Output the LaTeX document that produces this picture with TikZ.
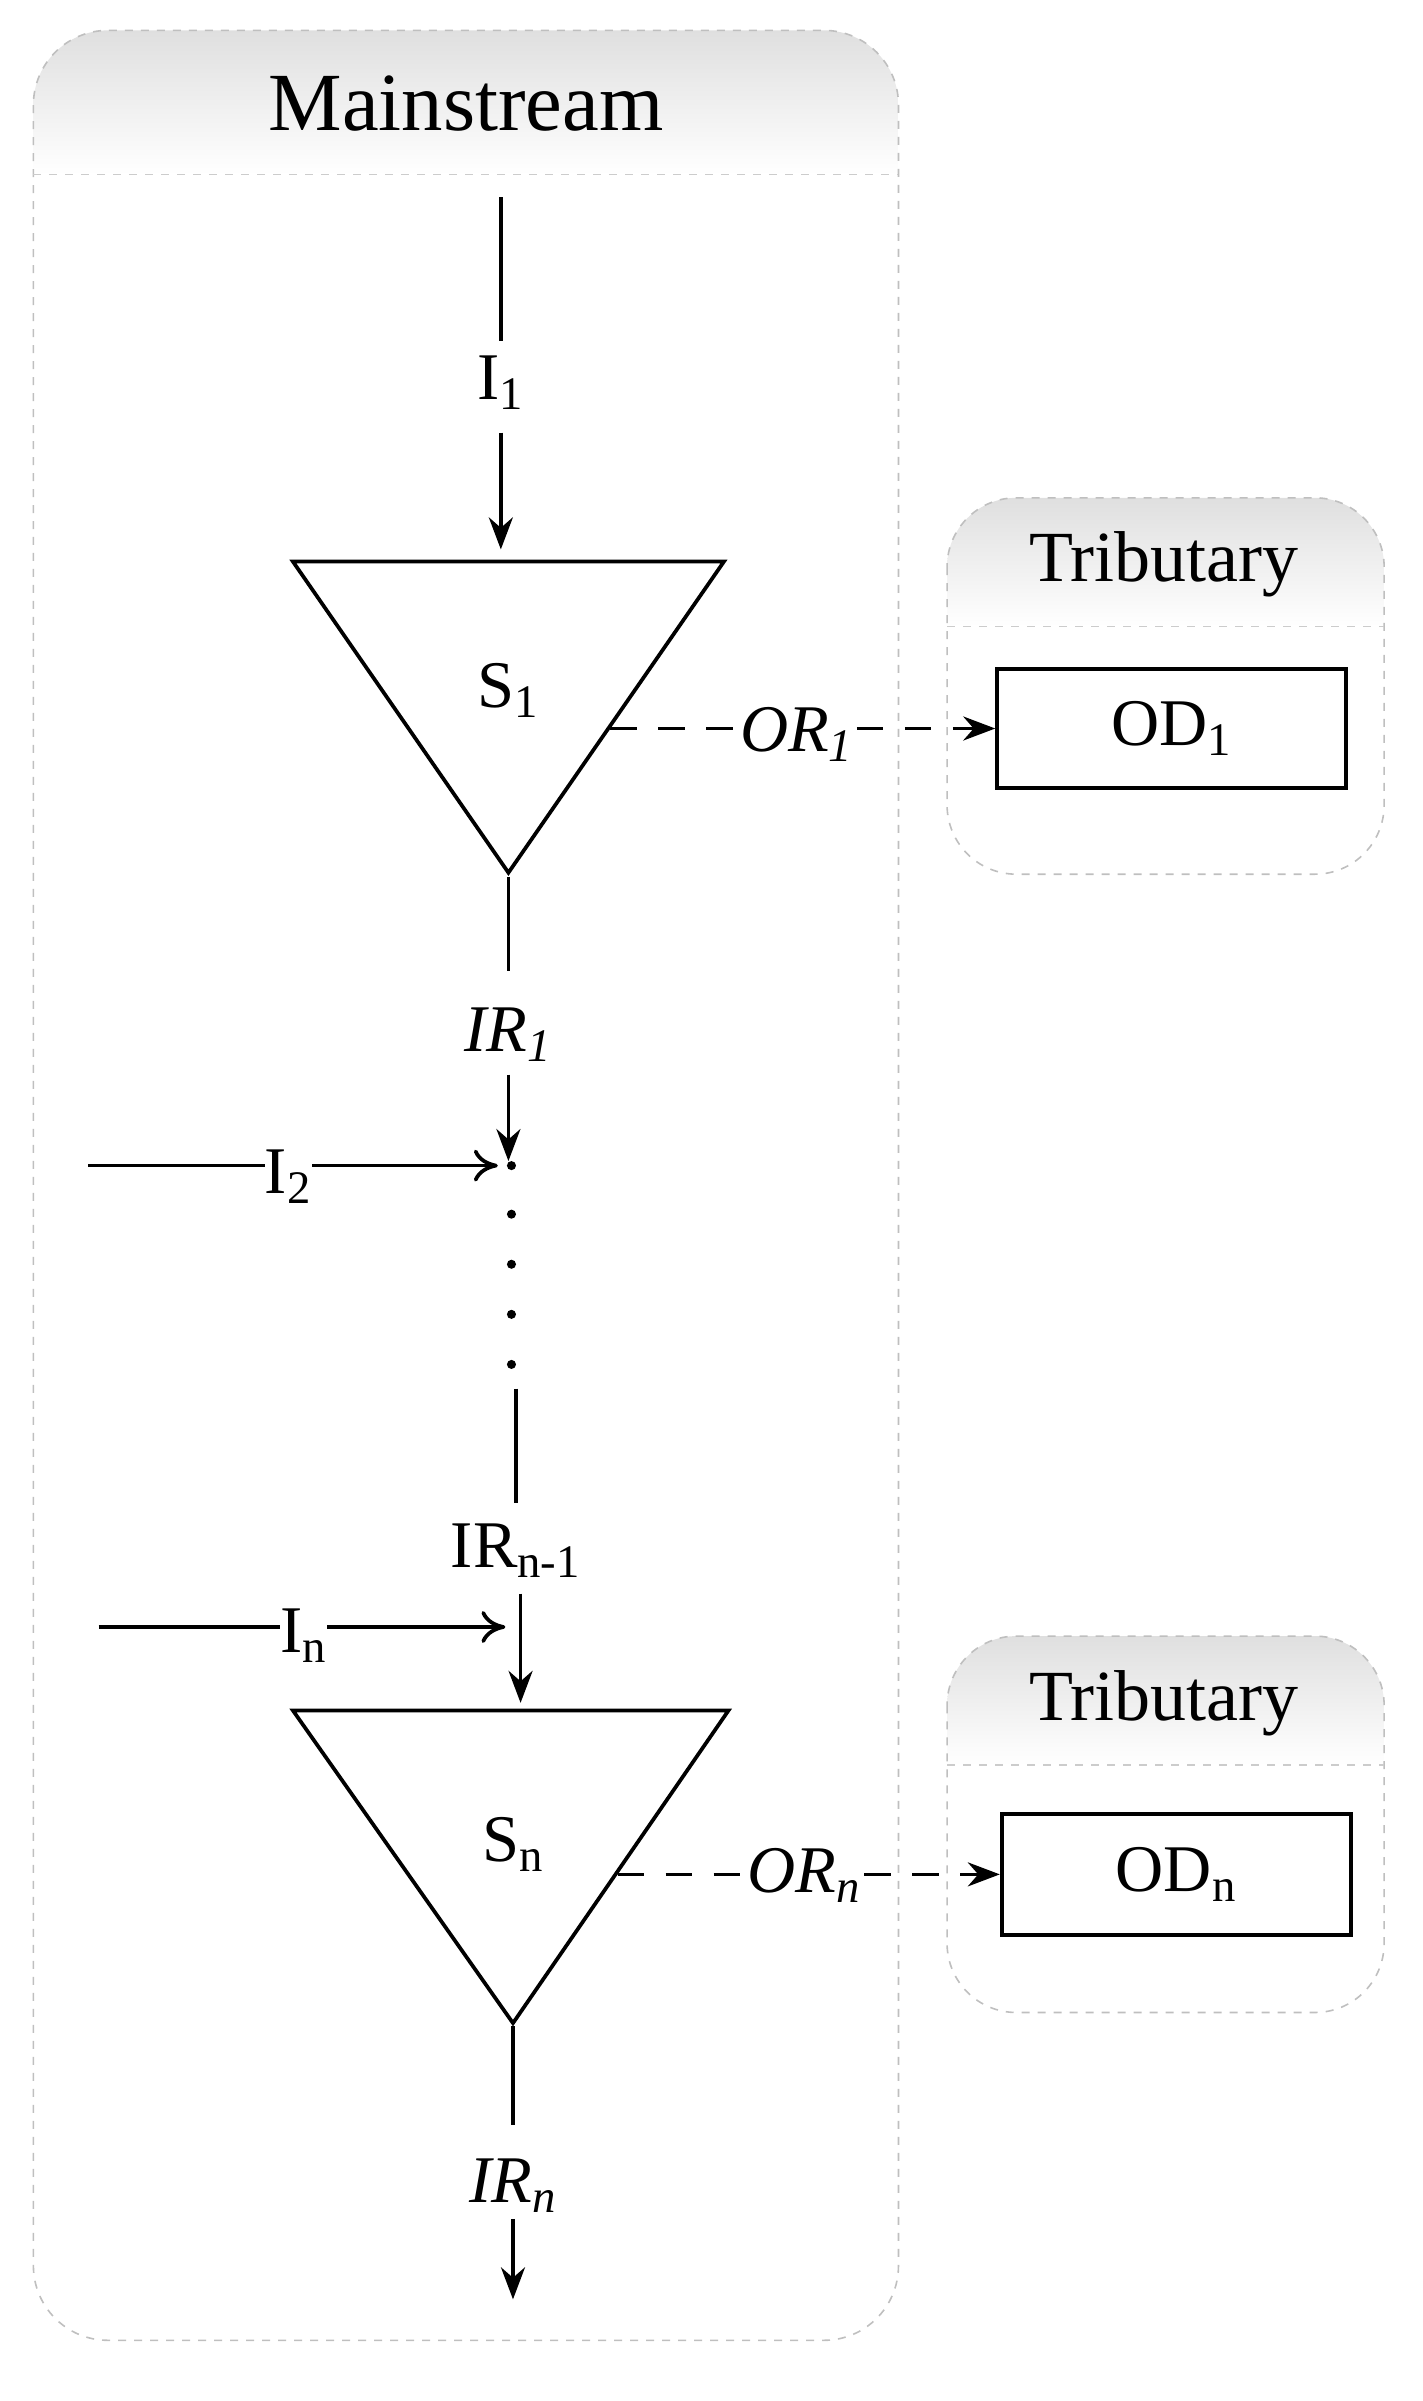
\documentclass[tikz,border=0pt]{standalone}
\usepackage{fontspec}
\setmainfont{Liberation Serif}
\usetikzlibrary{arrows.meta}
\begin{document}
\begin{tikzpicture}[x=0.02cm,y=-0.02cm,
 cont/.style={draw=gray!50,dashed,rounded corners=28pt,line width=0.6pt},
 sep/.style={draw=gray!40,dashed,line width=0.5pt},
 ln/.style={line width=1.4pt},
 arr/.style={ln,-{Stealth[length=12pt,width=9pt]}},
 oarr/.style={ln,-{To[length=9pt,width=12pt]}},
 darr/.style={ln,dashed,dash pattern=on 10pt off 8pt,-{Stealth[length=12pt,width=9pt]}},
 lab/.style={font=\fontsize{25}{29}\selectfont,inner sep=1pt},
 tri/.style={ln},
 box/.style={draw,line width=1.4pt}]
\useasboundingbox (0,0) rectangle (937,1582);
% containers
\begin{scope}
\clip[rounded corners=28pt] (22,20) rectangle (592,1542);
\shade[top color=gray!25,bottom color=white] (22,20) rectangle (592,115);
\end{scope}
\draw[cont] (22,20) rectangle (592,1542);
\draw[sep] (22,115) -- (592,115);
\node[font=\fontsize{31}{35}\selectfont] (mt) at (307,68) {Mainstream};
\foreach \y/\s/\n in {328/413/1,1078/1163/2}{
 \begin{scope}
 \clip[rounded corners=26pt] (624,\y) rectangle (912,\y+248);
 \shade[top color=gray!25,bottom color=white] (624,\y) rectangle (912,\s);
 \end{scope}
 \draw[cont,rounded corners=26pt] (624,\y) rectangle (912,\y+248);
 \draw[sep] (624,\s) -- (912,\s);
}
\node[font=\fontsize{27}{31}\selectfont] (t1) at (767,372) {Tributary};
\node[font=\fontsize{27}{31}\selectfont] (t2) at (767,1122) {Tributary};
% OD boxes
\node[box,minimum width=230*0.02cm,minimum height=78*0.02cm,lab] (od1) at (772,480) {OD\textsubscript{1}};
\node[box,minimum width=230*0.02cm,minimum height=80*0.02cm,lab] (odn) at (775,1235) {OD\textsubscript{n}};
% triangles
\draw[tri] (193,370) -- (477,370) -- (335,575) -- cycle;
\node[lab] (s1) at (335,455) {S\textsubscript{1}};
\draw[tri] (193,1127) -- (480,1127) -- (338,1333) -- cycle;
\node[lab] (sn) at (338,1215) {S\textsubscript{n}};
% S1 inputs
\coordinate (a0) at (330,130); \coordinate (a1) at (330,225);
\node[lab] (i1) at (330,252) {I\textsubscript{1}};
\coordinate (a2) at (330,285); \coordinate (a3) at (330,362);
\draw[ln] (a0) -- (a1); \draw[arr] (a2) -- (a3);
% OR1
\coordinate (o1) at (402,480);
\node[lab,anchor=base] (or1) at (525,495) {\textit{OR\textsubscript{1}}};
\draw[ln,dashed,dash pattern=on 10pt off 8pt] (o1) -- (o1 -| or1.west);
\draw[darr] (o1 -| or1.east) -- (od1.west);
% IR1
\coordinate (b0) at (335,578); \coordinate (b1) at (335,640);
\node[lab] (ir1) at (335,682) {\textit{IR\textsubscript{1}}};
\coordinate (b2) at (335,708); \coordinate (b3) at (335,765);
\draw[ln] (b0) -- (b1); \draw[arr] (b2) -- (b3);
% I2
\coordinate (c0) at (58,768); \coordinate (c1) at (328,768);
\draw[oarr] (c0) -- (c1);
\node[lab,fill=white,inner sep=0pt] (i2) at (190,775) {I\textsubscript{2}};
% dots
\foreach \yy in {768,800,833,866,899} \fill (337,\yy) circle (1.7pt);
\coordinate (d0) at (340,915); \coordinate (d1) at (340,990);
\draw[ln] (d0) -- (d1);
\node[lab] (irn1) at (340,1022) {IR\textsubscript{n-1}};
\coordinate (d2) at (343,1050); \coordinate (d3) at (343,1122);
\draw[arr] (d2) -- (d3);
% In
\coordinate (e0) at (65,1072); \coordinate (e1) at (333,1072);
\draw[oarr] (e0) -- (e1);
\node[lab,fill=white,inner sep=0pt] (in) at (200,1078) {I\textsubscript{n}};
% ORn
\coordinate (o2) at (407,1235);
\node[lab,anchor=base] (orn) at (530,1247) {\textit{OR\textsubscript{n}}};
\draw[ln,dashed,dash pattern=on 10pt off 8pt] (o2) -- (o2 -| orn.west);
\draw[darr] (o2 -| orn.east) -- (odn.west);
% IRn
\coordinate (f0) at (338,1335); \coordinate (f1) at (338,1400);
\node[lab] (irn) at (338,1440) {\textit{IR\textsubscript{n}}};
\coordinate (f2) at (338,1462); \coordinate (f3) at (338,1515);
\draw[ln] (f0) -- (f1); \draw[arr] (f2) -- (f3);
\end{tikzpicture}
\end{document}
